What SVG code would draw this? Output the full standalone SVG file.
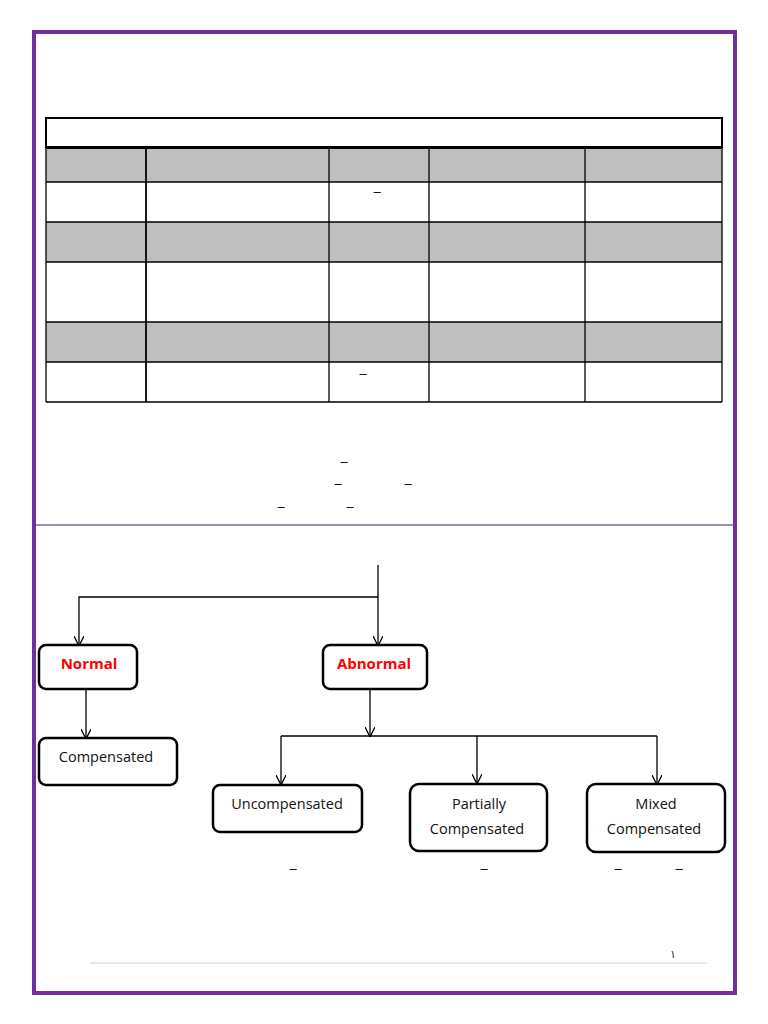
<svg xmlns="http://www.w3.org/2000/svg" width="768" height="1024" viewBox="0 0 768 1024">
<defs>
<marker id="arr" viewBox="0 0 10 10" refX="9" refY="5" markerWidth="10" markerHeight="10" markerUnits="userSpaceOnUse" orient="auto"><path d="M0,0 L10,5 L0,10" fill="none" stroke="#000" stroke-width="1.3"/></marker>
</defs>
<style>
.node{fill:#fff;stroke:#000;stroke-width:2.5}
.lbl{font-family:"Open Sans","Liberation Sans",sans-serif;font-size:14.5px;fill:#111;text-anchor:middle}
.red{font-family:"Open Sans","Liberation Sans",sans-serif;font-size:15px;font-weight:bold;fill:#f00;text-anchor:middle}
.con{fill:none;stroke:#000;stroke-width:1.3}
.cell{stroke:#000;stroke-width:1.3}
.g{fill:#bfbfbf}
.w{fill:#fff}
.d{font-family:"Liberation Sans",sans-serif;font-size:13px;fill:#000;text-anchor:middle}
</style>
<rect width="768" height="1024" fill="#fff"/>
<rect x="34" y="32" width="701" height="961" fill="none" stroke="#7030a0" stroke-width="4"/>
<line x1="36" y1="525" x2="733" y2="525" stroke="#a08cb8" stroke-width="2"/>
<g id="table">
<rect x="46" y="118" width="676" height="29" fill="#fff" stroke="#000" stroke-width="2"/>
<rect x="46" y="148" width="676" height="34" class="g"/>
<rect x="46" y="222" width="676" height="40" class="g"/>
<rect x="46" y="322" width="676" height="40" class="g"/>
<g class="cell">
<line x1="46" y1="148" x2="722" y2="148" stroke-width="2"/>
<line x1="46" y1="182" x2="722" y2="182"/>
<line x1="46" y1="222" x2="722" y2="222"/>
<line x1="46" y1="262" x2="722" y2="262"/>
<line x1="46" y1="322" x2="722" y2="322"/>
<line x1="46" y1="362" x2="722" y2="362"/>
<line x1="46" y1="402" x2="722" y2="402"/>
<line x1="46" y1="148" x2="46" y2="402"/>
<line x1="146" y1="148" x2="146" y2="402" stroke-width="1.8"/>
<line x1="329" y1="148" x2="329" y2="402"/>
<line x1="429" y1="148" x2="429" y2="402"/>
<line x1="585" y1="148" x2="585" y2="402"/>
<line x1="722" y1="148" x2="722" y2="402"/>
</g>
<text x="377" y="196" class="d">–</text>
<text x="363" y="378" class="d">–</text>
</g>
<text x="344" y="466" class="d">–</text>
<text x="338" y="488" class="d">–</text>
<text x="408" y="488" class="d">–</text>
<text x="281" y="511" class="d">–</text>
<text x="350" y="511" class="d">–</text>
<g id="connectors">
<path class="con" d="M378,565 V645" marker-end="url(#arr)"/>
<path class="con" d="M378,597 H79 V645" marker-end="url(#arr)"/>
<path class="con" d="M86,689 V738" marker-end="url(#arr)"/>
<path class="con" d="M370,689 V736" marker-end="url(#arr)"/>
<path class="con" d="M281,736 H657"/>
<path class="con" d="M281,736 V784" marker-end="url(#arr)"/>
<path class="con" d="M477,736 V783" marker-end="url(#arr)"/>
<path class="con" d="M657,736 V784" marker-end="url(#arr)"/>
</g>
<g id="normal"><rect x="39" y="645" width="98" height="44" rx="7" class="node"/><text x="89" y="669" class="red">Normal</text></g>
<g id="abnormal"><rect x="323" y="645" width="104" height="44" rx="7" class="node"/><text x="374" y="669" class="red">Abnormal</text></g>
<g id="compensated"><rect x="39" y="738" width="138" height="47" rx="7" class="node"/><text x="106" y="762" class="lbl">Compensated</text></g>
<g id="uncompensated"><rect x="213" y="785" width="149" height="47" rx="7" class="node"/><text x="287" y="809" class="lbl">Uncompensated</text></g>
<g id="partially"><rect x="410" y="784" width="137" height="67" rx="9" class="node"/><text x="479" y="809" class="lbl">Partially</text><text x="477" y="834" class="lbl">Compensated</text></g>
<g id="mixed"><rect x="587" y="784" width="138" height="68" rx="9" class="node"/><text x="656" y="809" class="lbl">Mixed</text><text x="654" y="834" class="lbl">Compensated</text></g>
<text x="293" y="873" class="d">–</text>
<text x="484" y="873" class="d">–</text>
<text x="618" y="873" class="d">–</text>
<text x="679" y="873" class="d">–</text>
<line x1="90" y1="963" x2="707" y2="963" stroke="#d0d0d0" stroke-width="1"/>
<text x="673" y="958" font-family="'Noto Sans','DejaVu Sans',sans-serif" font-size="11" fill="#333" text-anchor="middle">١</text>
</svg>
